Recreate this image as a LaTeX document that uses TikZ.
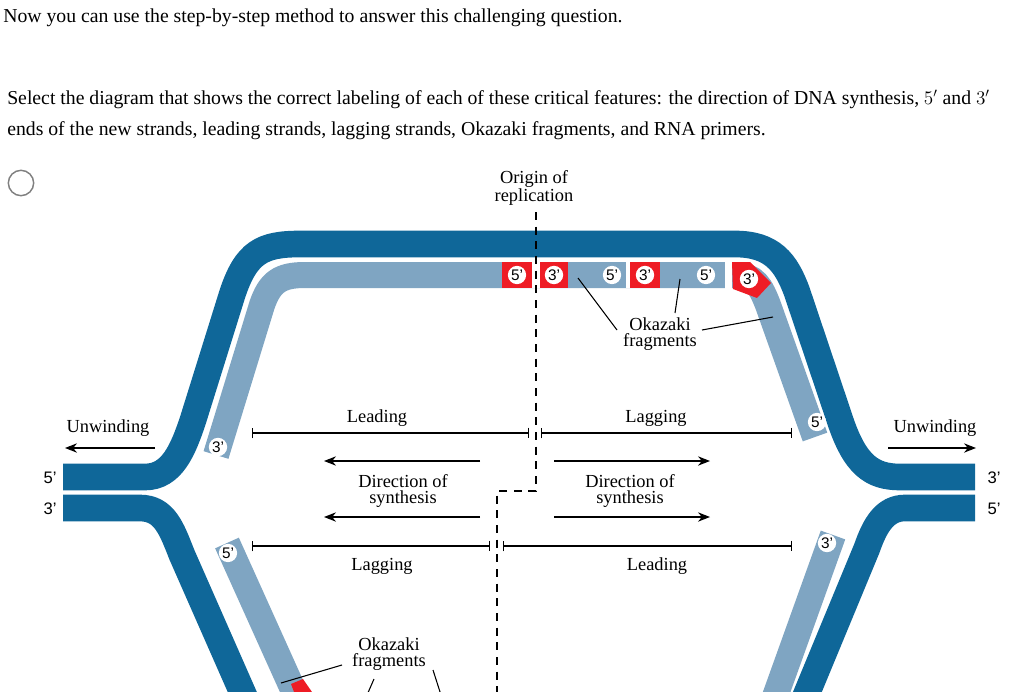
\documentclass[tikz,border=0pt]{standalone}
\usepackage{fontspec}
\setmainfont{Liberation Serif}
\newfontfamily\lsans{Liberation Sans}
\usetikzlibrary{arrows.meta}
\definecolor{dkblue}{HTML}{0F6799}
\definecolor{ltblue}{HTML}{7FA5C2}
\definecolor{prim}{HTML}{EE1C25}
\tikzset{
  dark/.style={draw=dkblue,line width=20pt},
  light/.style={draw=ltblue,line width=19.5pt},
  endlab/.style={circle,fill=white,inner sep=0.6pt,minimum size=13.5pt,font=\lsans\fontsize{11.5}{11}\selectfont},
  sidelab/.style={font=\lsans\fontsize{12.5}{12}\selectfont},
  lbl/.style={font=\fontsize{13.8}{12}\selectfont,align=center},
  txt/.style={font=\fontsize{14.8}{16}\selectfont,anchor=west,inner sep=0},
  bar/.style={line width=0.9pt,{Bar[width=8pt]}-{Bar[width=8pt]}},
  syn/.style={line width=0.9pt,-{Stealth[length=9pt,width=7pt]}},
  dsh/.style={line width=0.8pt,dash pattern=on 6pt off 5pt},
  ptr/.style={line width=0.8pt}
}
\begin{document}
\begin{tikzpicture}[x=0.75pt,y=-0.75pt]
\useasboundingbox (0,0) rectangle (1024,692);
\clip (0,0) rectangle (1024,692);
% header
\node[txt] (h1) at (3,18) {Now you can use the step-by-step method to answer this challenging question.};
\node[txt] (h2) at (7,99) {Select the diagram that shows the correct labeling of each of these critical features: the direction of DNA synthesis, $5'$ and $3'$};
\node[txt] (h3) at (7,131) {ends of the new strands, leading strands, lagging strands, Okazaki fragments, and RNA primers.};
\node[circle,draw=gray,line width=1.1pt,minimum size=19pt,inner sep=0] (radio) at (21,183) {};
% dark parental strands
\draw[dark] (63,477) -- (145,477) .. controls (172,477) and (183,450) .. (193,420) -- (232,295) .. controls (246,252) and (262,244) .. (300,244) -- (735,244) .. controls (772,244) and (786,262) .. (797,292) -- (840,420) .. controls (855,465) and (872,477) .. (900,477) -- (975,477);
\draw[dark] (63,508) -- (140,508) .. controls (165,508) and (172,530) .. (182,555) -- (248,705);
\draw[dark] (975,508) -- (905,508) .. controls (885,508) and (875,525) .. (867,548) -- (802,705);
% light new strands
\draw[light] (216,455) -- (262,305) .. controls (270,282) and (280,275) .. (305,275) -- (735,275) .. controls (755,275) and (761,287) .. (768,305) -- (815,437);
\draw[light] (227,543) -- (300,705);
\draw[light] (833,535) -- (772,705);
% primers top
\fill[prim] (502,262) rectangle (532,288);
\fill[white] (532,262) rectangle (540,288);
\fill[prim] (540,262) rectangle (568,288);
\fill[white] (626,262) rectangle (630,288);
\fill[prim] (630,262) rectangle (660,288);
\fill[white] (725,261) rectangle (732,289);
\fill[prim] (732,262) -- (750,262) -- (771,283) -- (757,298) -- (733,289) -- cycle;
\fill[prim] (291,684) -- (303,679) -- (312,692) -- (294,692) -- cycle;
% end labels
\node[endlab] (a1) at (517,275) {5’};
\node[endlab] (a2) at (554,275) {3’};
\node[endlab] (a3) at (612,275) {5’};
\node[endlab] (a4) at (645,275) {3’};
\node[endlab] (a5) at (706,275) {5’};
\node[endlab] (a6) at (749,279) {3’};
\node[endlab] (b1) at (218,447) {3’};
\node[endlab] (b2) at (228,553) {5’};
\node[endlab] (b3) at (817,422) {5’};
\node[endlab] (b4) at (827,543) {3’};
\node[sidelab] (s1) at (50,478) {5’};
\node[sidelab] (s2) at (50,509) {3’};
\node[sidelab] (s3) at (994,478) {3’};
\node[sidelab] (s4) at (994,509) {5’};
% origin
\node[lbl] (orig) at (534,188) {Origin of\\replication};
\coordinate (o1) at (536,212);
\coordinate (o2) at (536,491);
\coordinate (o3) at (497,491);
\coordinate (o4) at (497,692);
\draw[dsh] (o1) -- (o2) -- (o3) -- (o4);
% unwinding
\node[lbl] (uwl) at (108,428) {Unwinding};
\node[lbl] (uwr) at (935,428) {Unwinding};
\coordinate (ul1) at (155,448); \coordinate (ul2) at (65,448);
\coordinate (ur1) at (888,448); \coordinate (ur2) at (976,448);
\draw[syn] (ul1) -- (ul2);
\draw[syn] (ur1) -- (ur2);
% bars
\coordinate (L1) at (252,433); \coordinate (L2) at (529,433);
\coordinate (L3) at (541,433); \coordinate (L4) at (792,433);
\coordinate (L5) at (252,546); \coordinate (L6) at (490,546);
\coordinate (L7) at (503,546); \coordinate (L8) at (792,546);
\draw[bar] (L1) -- (L2);
\draw[bar] (L3) -- (L4);
\draw[bar] (L5) -- (L6);
\draw[bar] (L7) -- (L8);
\node[lbl] (t1) at (377,418) {Leading};
\node[lbl] (t2) at (656,418) {Lagging};
\node[lbl] (t3) at (382,566) {Lagging};
\node[lbl] (t4) at (657,566) {Leading};
% synthesis arrows
\coordinate (d1) at (480,461); \coordinate (d2) at (324,461);
\coordinate (d3) at (554,461); \coordinate (d4) at (710,461);
\coordinate (d5) at (480,517); \coordinate (d6) at (324,517);
\coordinate (d7) at (554,517); \coordinate (d8) at (710,517);
\draw[syn] (d1) -- (d2);
\draw[syn] (d3) -- (d4);
\draw[syn] (d5) -- (d6);
\draw[syn] (d7) -- (d8);
\node[lbl] (ds1) at (403,491) {Direction of\\synthesis};
\node[lbl] (ds2) at (630,491) {Direction of\\synthesis};
% okazaki labels
\node[lbl] (ok1) at (660,334) {Okazaki\\fragments};
\coordinate (k1) at (578,278); \coordinate (k2) at (680,279); \coordinate (k3) at (773,317);
\draw[ptr] (617,330) -- (k1);
\draw[ptr] (675,313) -- (k2);
\draw[ptr] (702,330) -- (k3);
\node[lbl] (ok2) at (389,654) {Okazaki\\fragments};
\coordinate (k4) at (281,683); \coordinate (k5) at (367,695); \coordinate (k6) at (441,695);
\draw[ptr] (342,665) -- (k4);
\draw[ptr] (374,679) -- (k5);
\draw[ptr] (433,670) -- (k6);
\end{tikzpicture}
\end{document}
